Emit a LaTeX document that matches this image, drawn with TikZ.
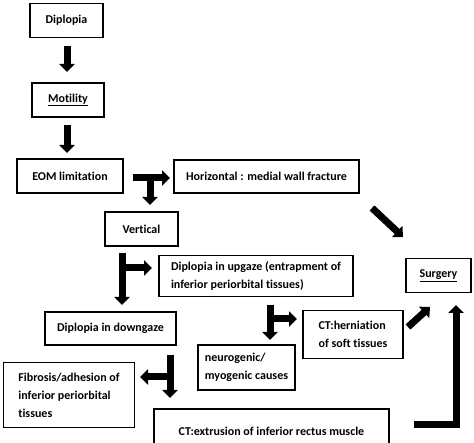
\documentclass[tikz,border=0pt]{standalone}
\usepackage{fontspec}
\setmainfont{Carlito}[Ligatures=NoCommon]
\usetikzlibrary{arrows.meta}
\begin{document}
\begin{tikzpicture}[x=1pt,y=-1pt,
  box/.style={draw,line width=1.4pt,font=\bfseries\fontsize{12}{18}\selectfont,align=left,inner sep=0pt},
  blk/.style={line width=7pt,line join=miter,-{Triangle[length=8pt,width=15pt]}}
]
\fill[white] (0,0) rectangle (474,443);
\useasboundingbox (0,0) rectangle (474,443);
% boxes
\node[box,minimum width=73pt,minimum height=34pt] (dip) at (66.5,20.5) {Diplopia};
\node[box,minimum width=72pt,minimum height=34pt] (mot) at (68,100) {\underline{Motility}};
\node[box,minimum width=106pt,minimum height=34pt] (eom) at (70,176) {EOM limitation};
\node[box,minimum width=185pt,minimum height=33pt] (hor) at (266.5,176.5) {Horizontal : medial wall fracture};
\node[box,minimum width=73pt,minimum height=34pt] (ver) at (141.5,229) {Vertical};
\node[box,minimum width=194pt,minimum height=41pt] (up) at (256,276) {Diplopia in upgaze (entrapment of\\inferior periorbital tissues)};
\node[box,minimum width=65pt,minimum height=34pt] (sur) at (438.5,275.5) {\underline{Surgery}};
\node[box,minimum width=131pt,minimum height=33pt] (down) at (110.5,328.5) {Diplopia in downgaze};
\node[box,minimum width=100pt,minimum height=48pt] (hern) at (353,334.5) {CT:herniation\\of soft tissues};
\node[box,minimum width=97pt,minimum height=45pt] (neu) at (246.5,367.5) {neurogenic/\\myogenic causes};
\node[box,minimum width=131pt,minimum height=65pt] (fib) at (69,395) {Fibrosis/adhesion of\\inferior periorbital\\tissues};
\node[box,minimum width=235pt,minimum height=44pt] (ext) at (271.5,431) {CT:extrusion of inferior rectus muscle};
% junction coordinates
\coordinate (a1s) at (67,46);   \coordinate (a1e) at (67,72);
\coordinate (a2s) at (67,125);  \coordinate (a2e) at (67,153);
\coordinate (t1s) at (133,178); \coordinate (t1e) at (170,178);
\coordinate (t1j) at (150,178); \coordinate (t1d) at (150,205);
\coordinate (t2s) at (122,253); \coordinate (t2e) at (122,305);
\coordinate (t2j) at (122,268); \coordinate (t2r) at (152,268);
\coordinate (t3s) at (270,305); \coordinate (t3e) at (270,340);
\coordinate (t3j) at (270,319); \coordinate (t3r) at (297,319);
\coordinate (t4s) at (170,355); \coordinate (t4e) at (170,398);
\coordinate (t4j) at (170,377); \coordinate (t4l) at (140,377);
\coordinate (d1s) at (372,208); \coordinate (d1e) at (403,237);
\coordinate (d2s) at (408,327); \coordinate (d2e) at (430,307);
\coordinate (l1s) at (414,425); \coordinate (l1c) at (456,425); \coordinate (l1e) at (456,305);
% arrows
\draw[blk] (a1s) -- (a1e);
\draw[blk] (a2s) -- (a2e);
\draw[blk] (t1s) -- (t1e);
\draw[blk] (t1j) -- (t1d);
\draw[blk] (t2s) -- (t2e);
\draw[blk] (t2j) -- (t2r);
\draw[blk] (t3s) -- (t3e);
\draw[blk] (t3j) -- (t3r);
\draw[blk] (t4s) -- (t4e);
\draw[blk] (t4j) -- (t4l);
\draw[blk] (d1s) -- (d1e);
\draw[blk] (d2s) -- (d2e);
\draw[blk] (l1s) -- (l1c) -- (l1e);
\end{tikzpicture}
\end{document}
